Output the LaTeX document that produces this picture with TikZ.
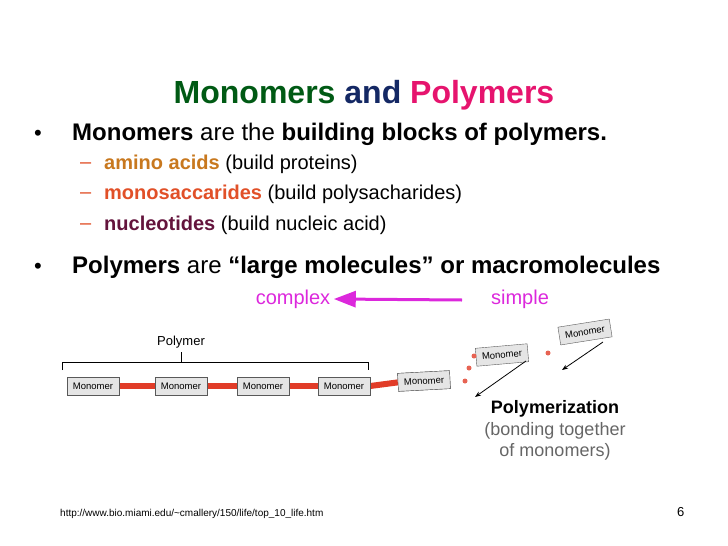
\documentclass[tikz,border=0pt]{standalone}
\usepackage{fontspec}
\setmainfont{Liberation Sans}
\usetikzlibrary{arrows.meta}
\definecolor{tgreen}{RGB}{0,90,20}
\definecolor{tblue}{RGB}{20,40,100}
\definecolor{tpink}{RGB}{230,20,110}
\definecolor{amber}{RGB}{200,120,30}
\definecolor{orng}{RGB}{225,80,40}
\definecolor{plum}{RGB}{100,20,60}
\definecolor{mag}{RGB}{220,40,220}
\definecolor{bond}{RGB}{225,60,40}
\begin{document}
\begin{tikzpicture}[x=1pt,y=-1pt,
  txt/.style={anchor=base west,inner sep=0pt},
  mono/.style={draw=gray!70!black,fill=gray!20,minimum width=52pt,minimum height=18pt,inner sep=0pt,font=\fontsize{9.5}{10}\selectfont},
  bondln/.style={bond,line width=6pt},
  dot/.style={circle,fill=bond!80,inner sep=0pt,minimum size=5pt},
  blk/.style={-{Stealth[length=6pt]},black,thick}]
\useasboundingbox (0,0) rectangle (728,546);
\node[anchor=base,inner sep=0pt,font=\fontsize{32}{36}\selectfont\bfseries] (title) at (364,103)
 {\textcolor{tgreen}{Monomers} \textcolor{tblue}{and} \textcolor{tpink}{Polymers}};
\node[txt,font=\fontsize{22}{24}\selectfont] (b1) at (34,140) {•};
\node[txt,font=\fontsize{24}{28}\selectfont] (l1) at (72,140) {\textbf{Monomers} are the \textbf{building blocks of polymers.}};
\node[txt,font=\fontsize{20}{24}\selectfont,text=orng] (d1) at (80,168) {–};
\node[txt,font=\fontsize{20}{24}\selectfont] (s1) at (104,169) {\textcolor{amber}{\textbf{amino acids}} (build proteins)};
\node[txt,font=\fontsize{20}{24}\selectfont,text=orng] (d2) at (80,198) {–};
\node[txt,font=\fontsize{20}{24}\selectfont] (s2) at (104,199) {\textcolor{orng}{\textbf{monosaccarides}} (build polysacharides)};
\node[txt,font=\fontsize{20}{24}\selectfont,text=orng] (d3) at (80,229) {–};
\node[txt,font=\fontsize{20}{24}\selectfont] (s3) at (104,230) {\textcolor{plum}{\textbf{nucleotides}} (build nucleic acid)};
\node[txt,font=\fontsize{22}{24}\selectfont] (b2) at (34,273) {•};
\node[txt,font=\fontsize{24}{28}\selectfont] (l2) at (72,273) {\textbf{Polymers} are \textbf{“large molecules” or macromolecules}};
% complex/simple
\node[font=\fontsize{20}{22}\selectfont,text=mag] (cx) at (293,299) {complex};
\node[font=\fontsize{20}{22}\selectfont,text=mag] (sp) at (520,299) {simple};
\coordinate (ae) at (462,300);
\draw[mag,line width=3pt,-{Triangle[length=22pt,width=16pt]}] (ae) -- (cx.east);
% polymer bracket
\node[font=\fontsize{13}{14}\selectfont] (pl) at (181,342) {Polymer};
\coordinate (bl) at (62,370); \coordinate (br) at (368,370);
\coordinate (tk) at (181,352);
\draw[thick] (bl) -- ++(0,-8) -- (368,362) -- (br);
\draw[thick] (tk) -- (181,362);
% monomers
\node[mono] (m1) at (93,386) {Monomer};
\node[mono] (m2) at (181,386) {Monomer};
\node[mono] (m3) at (263,386) {Monomer};
\node[mono] (m4) at (344,386) {Monomer};
\node[mono,rotate=3] (m5) at (424,381) {Monomer};
\draw[bondln] (m1.east) -- (m2.west);
\draw[bondln] (m2.east) -- (m3.west);
\draw[bondln] (m3.east) -- (m4.west);
\draw[bondln] (m4.east) -- (m5.west);
\node[mono] at (93,386) {Monomer};
\node[mono] at (181,386) {Monomer};
\node[mono] at (263,386) {Monomer};
\node[mono] at (344,386) {Monomer};
\node[mono,rotate=3] at (424,381) {Monomer};
\node[mono,rotate=5] (m6) at (502,355) {Monomer};
\node[mono,rotate=9] (m7) at (585,332) {Monomer};
\node[dot] (p1) at (465,381) {};
\node[dot] (p2) at (469,368) {};
\node[dot] (p3) at (474,356) {};
\node[dot] (p4) at (548,353) {};
\coordinate (e1) at (475,397);
\coordinate (e2) at (562,370);
\draw[blk] (m6.center) ++(24,6) -- (e1);
\draw[blk] (m7.center) ++(18,10) -- (e2);
% polymerization
\node[font=\fontsize{18}{20}\selectfont\bfseries] (pz) at (555,409) {Polymerization};
\node[font=\fontsize{18}{21}\selectfont,text=gray!80!black,align=center] (pd) at (555,441) {(bonding together\\of monomers)};
% footer
\node[txt,font=\fontsize{10}{12}\selectfont] (url) at (60,516) {http://www.bio.miami.edu/\textasciitilde cmallery/150/life/top\_10\_life.htm};
\node[txt,font=\fontsize{13}{14}\selectfont] (pg) at (677,516) {6};
\end{tikzpicture}
\end{document}
